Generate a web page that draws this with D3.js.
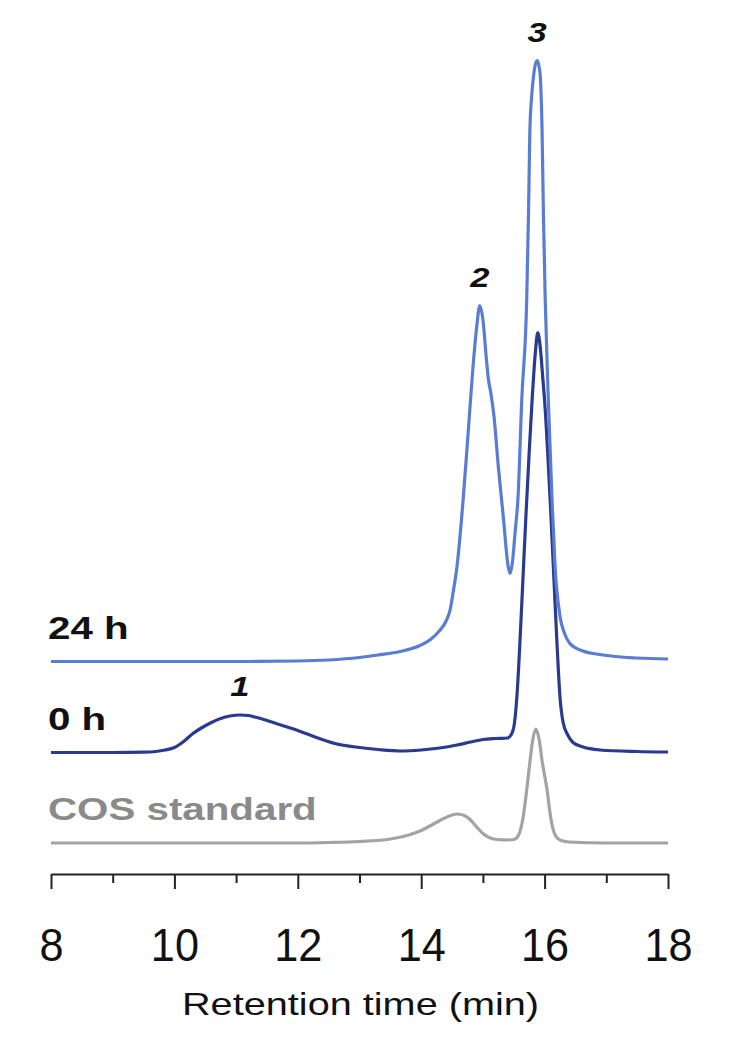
<!DOCTYPE html>
<html lang="en">
<head>
    <meta charset="UTF-8">
    <title>Retention time chromatograms</title>
    <style>
        body {
            margin: 0;
            background: #fff;
        }
        text {
            font-family: "Liberation Sans", Arial, sans-serif;
        }
    </style>
</head>
<body>
    <svg id="chart"></svg>
    <script src="https://cdnjs.cloudflare.com/ajax/libs/d3/7.8.5/d3.min.js"></script>
    <script>
        const width = 737;
        const height = 1043;

        // retention time (min) and detector signal (a.u.)
        const time24h = [8, 9, 10, 11, 12, 12.5, 13, 13.3, 13.66, 13.98, 14.15, 14.3, 14.4, 14.47, 14.52, 14.58, 14.68, 14.76, 14.84, 14.9, 14.95, 15.0, 15.06, 15.09, 15.13, 15.18, 15.25, 15.33, 15.41, 15.44, 15.48, 15.52, 15.57, 15.63, 15.71, 15.74, 15.76, 15.79, 15.82, 15.85, 15.88, 15.91, 15.93, 15.96, 15.98, 16.01, 16.06, 16.12, 16.17, 16.25, 16.33, 16.41, 16.6, 16.95, 17.5, 18];
        const signal24h = [0, 0, 0, 0, 0.5, 1.5, 4, 6.5, 10, 16, 22, 31, 40, 52, 70, 95, 162, 228, 295, 335, 356, 342, 300, 282, 268, 245, 195, 145, 95, 88, 100, 128, 165, 262, 362, 450, 528, 565, 585, 597, 601, 595, 585, 528, 450, 362, 262, 162, 95, 45, 27, 18, 11, 6.5, 3.5, 2.5];

        const time0h = [8, 9, 9.5, 9.7, 9.85, 10, 10.15, 10.3, 10.45, 10.6, 10.75, 10.9, 11.06, 11.2, 11.3, 11.45, 11.6, 11.8, 12, 12.3, 12.6, 13, 13.3, 13.66, 14, 14.3, 14.58, 14.8, 15, 15.2, 15.4, 15.45, 15.5, 15.55, 15.6, 15.65, 15.7, 15.75, 15.8, 15.85, 15.89, 15.93, 15.97, 16, 16.05, 16.1, 16.15, 16.2, 16.25, 16.3, 16.38, 16.46, 16.6, 16.9, 17.5, 18];
        const signal0h = [0, 0, 0.3, 1, 2.5, 5, 11, 19, 25, 30, 34, 36.5, 37.5, 37, 35.5, 33, 30, 26, 22, 15, 9, 5, 3, 1.5, 2.5, 4.5, 7.5, 10.5, 13, 14, 14.5, 17, 25, 55, 110, 175, 240, 300, 355, 400, 420, 405, 375, 352, 300, 240, 175, 110, 55, 30, 17, 10, 6, 2.5, 1, 0.5];

        const timeCOS = [8, 10, 12, 12.5, 13, 13.5, 13.8, 14, 14.2, 14.4, 14.58, 14.7, 14.8, 14.9, 15, 15.1, 15.23, 15.4, 15.5, 15.58, 15.65, 15.71, 15.76, 15.81, 15.86, 15.91, 15.96, 16.04, 16.1, 16.17, 16.25, 16.4, 17, 18];
        const signalCOS = [0, 0, 0, 0.5, 1.5, 4, 8, 12.5, 19, 25.5, 29, 27.5, 23, 16, 9.5, 5.5, 3.5, 3, 3.5, 8, 25, 53, 80, 104, 114, 104, 82, 53, 25, 8, 3, 1, 0, 0];

        const seriesNames = ["COS standard", "0 h", "24 h"];
        const seriesOffsets = [0, 90.5, 181.5];
        const seriesColors = ["#a3a3a3", "#2a3a8e", "#5a7dd4"];
        const labelColors = ["#8a8a8a", "#111", "#111"];

        const peakLabels = ["1", "2", "3"];
        const peakTimes = [11.06, 14.95, 15.88];
        const peakSeries = [1, 2, 2];

        const xTicks = [8, 10, 12, 14, 16, 18];
        const xMinorTicks = [9, 11, 13, 15, 17];
        const xTitle = "Retention time (min)";

        const series = [
            { t: timeCOS, v: signalCOS },
            { t: time0h, v: signal0h },
            { t: time24h, v: signal24h }
        ];

        // the lettering in the figure is wider than plain Arial
        const stretch = 1.28;

        const svg = d3.select("#chart")
            .attr("width", width)
            .attr("height", height);

        svg.append("rect")
            .attr("width", width)
            .attr("height", height)
            .attr("fill", "#fff");

        const x = d3.scaleLinear().domain([8, 18]).range([51, 668]);
        const y = d3.scaleLinear().domain([0, 800]).range([843, 43]);

        const line = d3.line()
            .x(d => x(d[0]))
            .y(d => y(d[1]))
            .curve(d3.curveMonotoneX);

        series.forEach((s, i) => {
            const pts = s.t.map((t, j) => [t, s.v[j] + seriesOffsets[i]]);
            svg.append("path")
                .datum(pts)
                .attr("fill", "none")
                .attr("stroke", seriesColors[i])
                .attr("stroke-width", 3.2)
                .attr("stroke-linejoin", "round")
                .attr("d", line);

            svg.append("text")
                .attr("transform", `translate(${x(8) - 3},${y(seriesOffsets[i]) - 23}) scale(${stretch},1)`)
                .attr("font-size", 31.5)
                .attr("font-weight", "bold")
                .attr("fill", labelColors[i])
                .text(seriesNames[i]);
        });

        peakLabels.forEach((lab, i) => {
            const s = series[peakSeries[i]];
            const top = s.v[d3.minIndex(s.t, t => Math.abs(t - peakTimes[i]))];
            svg.append("text")
                .attr("transform", `translate(${x(peakTimes[i])},${y(top + seriesOffsets[peakSeries[i]]) - 19}) scale(${stretch},1)`)
                .attr("text-anchor", "middle")
                .attr("font-size", 27)
                .attr("font-weight", "bold")
                .attr("font-style", "italic")
                .attr("fill", "#111")
                .text(lab);
        });

        // axis: major ticks with labels, minor ticks without
        const axisY = 874;
        const major = svg.append("g")
            .attr("transform", `translate(0,${axisY})`)
            .call(d3.axisBottom(x).tickValues(xTicks).tickSize(15).tickSizeOuter(0).tickFormat(d3.format("d")));
        const minor = svg.append("g")
            .attr("transform", `translate(0,${axisY})`)
            .call(d3.axisBottom(x).tickValues(xMinorTicks).tickSize(9).tickSizeOuter(0).tickFormat(""));

        [major, minor].forEach(g => {
            g.select(".domain").attr("stroke", "#222").attr("stroke-width", 2);
            g.selectAll(".tick line").attr("stroke", "#222").attr("stroke-width", 2);
        });
        minor.select(".domain").remove();

        major.selectAll(".tick text")
            .attr("y", 0)
            .attr("dy", 0)
            .attr("transform", "translate(0,87) scale(0.94,1)")
            .attr("font-size", 46)
            .attr("font-family", "'Liberation Sans', Arial, sans-serif")
            .attr("fill", "#111");

        svg.append("text")
            .attr("transform", `translate(${(x(8) + x(18)) / 2 + 1},1015) scale(1.24,1)`)
            .attr("text-anchor", "middle")
            .attr("font-size", 32)
            .attr("fill", "#111")
            .text(xTitle);
    </script>
</body>
</html>
